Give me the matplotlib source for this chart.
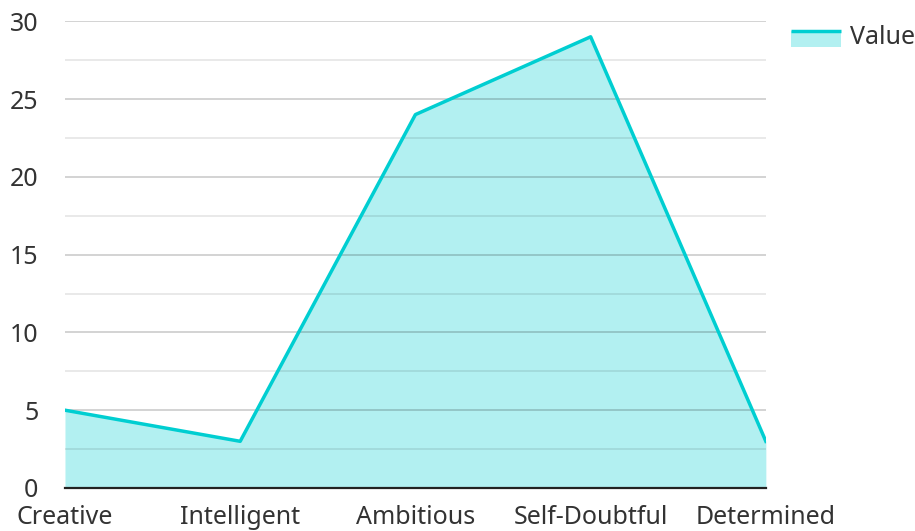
import numpy as np
import matplotlib.pyplot as plt
from matplotlib.patches import Rectangle
from matplotlib.lines import Line2D
from matplotlib.legend_handler import HandlerBase

plt.rcParams['font.family'] = ['Noto Sans', 'DejaVu Sans']

categories = ['Creative', 'Intelligent', 'Ambitious', 'Self-Doubtful', 'Determined']
values = [5, 3, 24, 29, 3]
yticks = [0, 5, 10, 15, 20, 25, 30]

line_col = '#00CED1'
text_col = '#333333'


class AreaHandler(HandlerBase):
    # filled box with the line across its top, like the reference legend
    def create_artists(self, legend, orig, xd, yd, w, h, fs, trans):
        box = Rectangle((-xd, -yd - 3), w, h, facecolor=line_col, alpha=0.3,
                        edgecolor='none', transform=trans)
        ln = Line2D([-xd, -xd + w], [-yd + h - 3, -yd + h - 3], color=line_col,
                    lw=2.5, solid_capstyle='butt', transform=trans)
        return [box, ln]


fig = plt.figure(figsize=(9.15, 5.31), dpi=100)
ax = fig.add_axes([0.071, 0.081, 0.766, 0.879])

x = np.arange(len(categories))
ax.fill_between(x, values, 0, color=line_col, alpha=0.3, lw=0, zorder=1)
ax.plot(x, values, color=line_col, lw=2.5, zorder=3)

ax.set_xlim(0, len(categories) - 1)
ax.set_ylim(0, 30)
ax.set_yticks(yticks)
ax.set_yticks(np.arange(2.5, 30, 5), minor=True)
ax.set_xticks(x)
ax.set_xticklabels(categories)

# semi-transparent grid so it shows darker over the fill
ax.grid(axis='y', which='major', color='black', alpha=0.2, lw=1.2, zorder=2)
ax.grid(axis='y', which='minor', color='black', alpha=0.1, lw=1.2, zorder=2)
ax.set_axisbelow(False)

for s in ['top', 'right', 'left']:
    ax.spines[s].set_visible(False)
ax.spines['bottom'].set_color('#222222')
ax.spines['bottom'].set_linewidth(1.6)
ax.spines['bottom'].set_zorder(4)

ax.tick_params(axis='both', which='both', length=0, labelsize=18,
               labelcolor=text_col)
ax.tick_params(axis='y', pad=19)
ax.tick_params(axis='x', pad=12)

handle = Rectangle((0, 0), 1, 1)
fig.legend([handle], ['Value'], handler_map={Rectangle: AreaHandler()},
           loc='upper left', bbox_to_anchor=(0.864, 0.953), frameon=False,
           fontsize=18, handlelength=2.0, handleheight=0.6, handletextpad=0.36,
           labelcolor=text_col, borderaxespad=0, borderpad=0)

fig.savefig('out.png', dpi=100)
